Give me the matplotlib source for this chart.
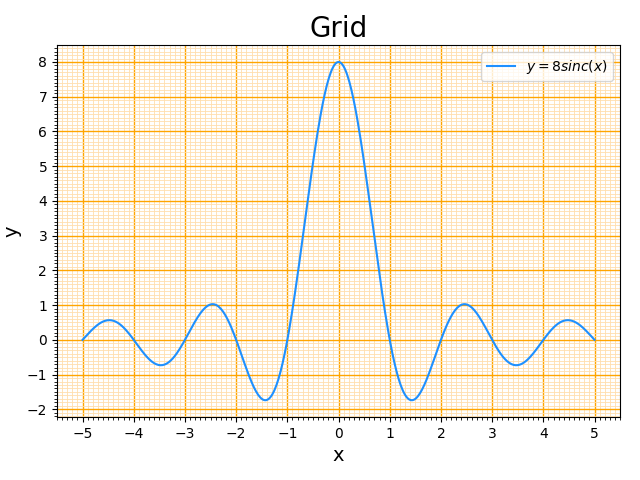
import numpy as np
import matplotlib.pyplot as plt
from matplotlib.ticker import MultipleLocator

amplitude = 8
x_start, x_stop, n_points = -5, 5, 500
x = np.linspace(x_start, x_stop, n_points)
y = amplitude * np.sinc(x)

fig, ax = plt.subplots(figsize=(6.4, 4.8), dpi=100)
ax.plot(x, y, color='#1E90FF', label='$y = 8sinc(x)$')
ax.set_title('Grid', fontsize=20)
ax.set_xlabel('x', fontsize=14)
ax.set_ylabel('y', fontsize=14)
ax.xaxis.set_major_locator(MultipleLocator(1))
ax.yaxis.set_major_locator(MultipleLocator(1))
ax.xaxis.set_minor_locator(MultipleLocator(0.1))
ax.yaxis.set_minor_locator(MultipleLocator(0.1))
ax.grid(which='major', color='orange', linewidth=1)
ax.grid(which='minor', color='navajowhite', linewidth=0.6)
ax.set_axisbelow(True)
ax.legend(loc='upper right')
fig.subplots_adjust(left=0.089, right=0.969, top=0.906, bottom=0.131)
fig.savefig('out.png')
